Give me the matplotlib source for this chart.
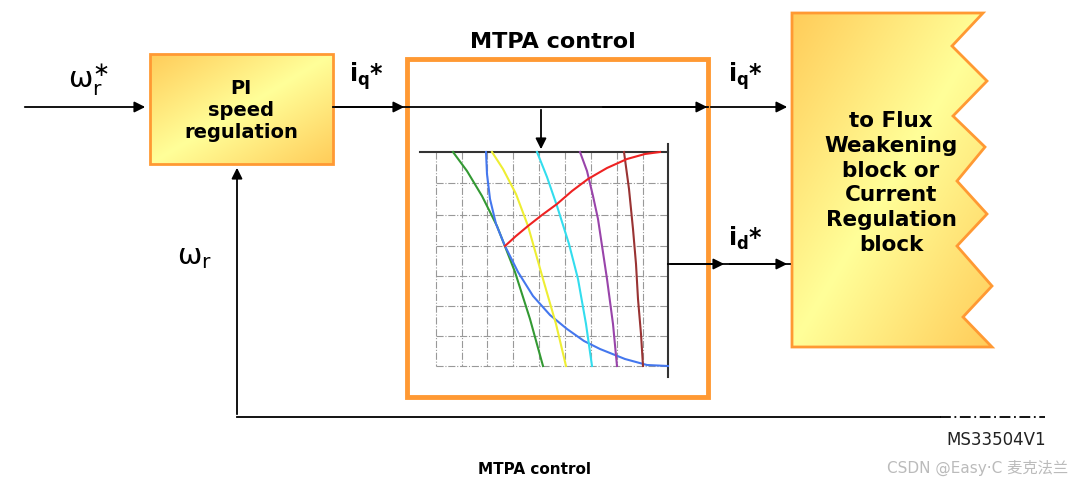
import matplotlib
matplotlib.use("Agg")
import matplotlib.pyplot as plt
import numpy as np
from matplotlib.patches import Polygon, Rectangle

# ---- data (pixel coordinates of the schematic curves) ----
grid_x = [436, 462, 487, 513, 539, 565, 591, 617, 643, 668]
grid_y = [153, 184, 216, 247, 277, 307, 337, 367]
green_x = [453, 467, 482, 497, 515, 530, 543]; green_y = [153, 172, 197, 227, 273, 320, 367]
blue_x = [486, 487, 490, 496, 505, 518, 533, 550, 567, 584, 600, 625, 647, 668]
blue_y = [153, 175, 200, 225, 247, 273, 297, 316, 330, 342, 350, 360, 366, 367]
yellow_x = [492, 503, 516, 528, 543, 556, 566]; yellow_y = [153, 170, 195, 227, 280, 325, 367]
cyan_x = [537, 547, 557, 569, 578, 586, 592]; cyan_y = [153, 178, 207, 245, 280, 325, 367]
purple_x = [580, 587, 593, 598, 601, 607, 613, 617]; purple_y = [153, 172, 197, 220, 240, 280, 325, 367]
brown_x = [624, 629, 633, 636, 638, 641, 643]; brown_y = [153, 190, 230, 265, 300, 335, 367]
red_x = [505, 516, 528, 542, 557, 572, 588, 607, 627, 645, 660]
red_y = [247, 237, 227, 216, 205, 192, 180, 169, 160, 155, 153]

fig = plt.figure(figsize=(10.74, 4.85), dpi=100)
ax = fig.add_axes([0, 0, 1, 1])
ax.set_xlim(0, 1074); ax.set_ylim(485, 0); ax.axis('off')

def grad_fill(poly):
    p = Polygon(poly, closed=True, facecolor='none', edgecolor='#FF9933', lw=2, zorder=3)
    ax.add_patch(p)
    xs = [q[0] for q in poly]; ys = [q[1] for q in poly]
    x0, x1, y0, y1 = min(xs), max(xs), min(ys), max(ys)
    X, Y = np.meshgrid(np.linspace(0, 1, 200), np.linspace(0, 1, 200))
    t = np.clip(1 - np.abs((X + Y) / 2 - 0.5) * 2, 0, 1)
    c0 = np.array([1.0, 0.80, 0.35]); c1 = np.array([1.0, 1.0, 0.6])
    img = c0[None, None, :] * (1 - t[..., None]) + c1[None, None, :] * t[..., None]
    im = ax.imshow(img, extent=[x0, x1, y1, y0], zorder=2, aspect='auto')
    im.set_clip_path(Polygon(poly, closed=True, transform=ax.transData))

def arrow(x0, y0, x1, y1):
    ax.annotate('', xy=(x1, y1), xytext=(x0, y0),
                arrowprops=dict(arrowstyle='-|>', color='black', lw=1.3, mutation_scale=16), zorder=5)

grad_fill([(150, 55), (333, 55), (333, 165), (150, 165)])
ax.text(241, 111, 'PI\nspeed\nregulation', ha='center', va='center', fontsize=14,
        fontweight='bold', linespacing=1.2, zorder=6)

big = [(792, 14), (983, 14), (952, 47), (987, 82), (953, 117), (985, 148), (957, 182),
       (987, 215), (957, 247), (992, 287), (963, 318), (992, 348), (792, 348)]
grad_fill(big)
ax.text(891, 183, 'to Flux\nWeakening\nblock or\nCurrent\nRegulation\nblock', ha='center', va='center',
        fontsize=15.5, fontweight='bold', linespacing=1.3, zorder=6)

ax.add_patch(Rectangle((407, 60), 301, 338, fill=False, edgecolor='#FF9933', lw=3.5, zorder=3))
ax.text(553, 42, 'MTPA control', ha='center', va='center', fontsize=16, fontweight='bold')

for gx in grid_x[:-1]:
    ax.plot([gx, gx], [153, 367], color='#999999', lw=0.8, ls='-.', zorder=3)
for gy in grid_y[1:]:
    ax.plot([436, 668], [gy, gy], color='#999999', lw=0.8, ls='-.', zorder=3)
ax.plot([420, 668], [153, 153], color='#333333', lw=1.5, zorder=4)
ax.plot([668, 668], [145, 378], color='#333333', lw=1.5, zorder=4)
for xs, ys, c in [(green_x, green_y, '#339933'), (blue_x, blue_y, '#4477EE'),
                  (yellow_x, yellow_y, '#EEEE33'), (cyan_x, cyan_y, '#33DDEE'),
                  (purple_x, purple_y, '#9944AA'), (brown_x, brown_y, '#993333'),
                  (red_x, red_y, '#EE2222')]:
    ax.plot(xs, ys, color=c, lw=1.5, zorder=4)

arrow(22, 108, 148, 108)
ax.plot([333, 708], [108, 108], color='black', lw=1.3, zorder=5)
arrow(333, 108, 407, 108)
arrow(541, 108, 541, 153)
arrow(600, 108, 710, 108)
arrow(708, 108, 790, 108)
ax.plot([668, 790], [265, 265], color='black', lw=1.3, zorder=5)
arrow(668, 265, 727, 265)
arrow(727, 265, 790, 265)
ax.plot([940, 237], [418, 418], color='black', lw=1.3, zorder=5)
ax.plot([940, 1045], [418, 418], color='black', lw=1.3, ls=(0, (6, 2, 1, 2)), zorder=5)
arrow(237, 418, 237, 166)

ax.text(68, 80, r'$\mathregular{\omega_r^{\ast}}$', fontsize=21, ha='left', va='center')
ax.text(195, 257, r'$\mathregular{\omega_r}$', fontsize=21, ha='center', va='center')
ax.text(349, 76, r'$\mathbf{i_q}$*', fontsize=17, ha='left', va='center', fontweight='bold')
ax.text(728, 76, r'$\mathbf{i_q}$*', fontsize=17, ha='left', va='center', fontweight='bold')
ax.text(728, 238, r'$\mathbf{i_d}$*', fontsize=17, ha='left', va='center', fontweight='bold')
ax.text(1046, 440, 'MS33504V1', fontsize=12, ha='right', va='center', color='#222222')
ax.text(535, 470, 'MTPA control', fontsize=11, ha='center', va='center', fontweight='bold')
ax.text(1068, 468, 'CSDN @Easy·C 麦克法兰', fontsize=11, ha='right', va='center', color='#BBBBBB',
        family=['DejaVu Sans', 'Noto Sans CJK SC'])

fig.savefig('out.png', dpi=100)
